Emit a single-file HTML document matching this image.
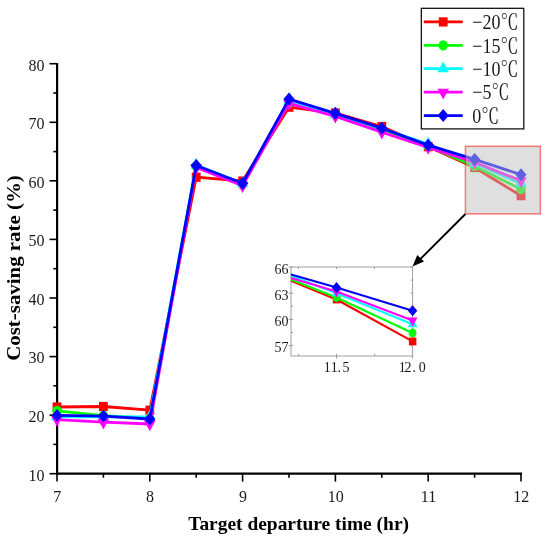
<!DOCTYPE html>
<html><head><meta charset="utf-8"><title>Cost-saving rate</title>
<style>
html,body{margin:0;padding:0;background:#fff;}
svg{display:block;}
text{font-family:"Liberation Serif","Noto Serif CJK SC",serif;fill:#1a1a1a;}
.tk{font-size:16px;}
.itk{font-size:14px;}
.lg{font-size:21px;}
.ttl{font-size:19.45px;font-weight:bold;fill:#000;}
</style></head><body>
<svg width="550" height="539" viewBox="0 0 550 539">
<rect width="550" height="539" fill="#fff"/>
<g stroke="#000" stroke-width="2" fill="none">
<path d="M57.1 62.9 V474.8" stroke-width="2.2"/>
<path d="M56 473.7 H522" stroke-width="2.2"/>
</g>
<g stroke="#000" stroke-width="1.6" fill="none">
<path d="M49.5 63.7 H57"/>
<path d="M53.3 93.0 H57"/>
<path d="M49.5 122.3 H57"/>
<path d="M53.3 151.6 H57"/>
<path d="M49.5 180.8 H57"/>
<path d="M53.3 210.1 H57"/>
<path d="M49.5 239.4 H57"/>
<path d="M53.3 268.7 H57"/>
<path d="M49.5 298.0 H57"/>
<path d="M53.3 327.3 H57"/>
<path d="M49.5 356.6 H57"/>
<path d="M53.3 385.8 H57"/>
<path d="M49.5 415.1 H57"/>
<path d="M53.3 444.4 H57"/>
<path d="M49.5 473.7 H57"/>
<path d="M57.0 473.7 V481.6"/>
<path d="M103.4 473.7 V477.7"/>
<path d="M149.8 473.7 V481.6"/>
<path d="M196.2 473.7 V477.7"/>
<path d="M242.6 473.7 V481.6"/>
<path d="M289.0 473.7 V477.7"/>
<path d="M335.4 473.7 V481.6"/>
<path d="M381.8 473.7 V477.7"/>
<path d="M428.2 473.7 V481.6"/>
<path d="M474.6 473.7 V477.7"/>
<path d="M521.0 473.7 V481.6"/>
</g>
<text class="tk" x="44.6" y="70.6" text-anchor="end">80</text>
<text class="tk" x="44.6" y="129.2" text-anchor="end">70</text>
<text class="tk" x="44.6" y="187.7" text-anchor="end">60</text>
<text class="tk" x="44.6" y="246.3" text-anchor="end">50</text>
<text class="tk" x="44.6" y="304.9" text-anchor="end">40</text>
<text class="tk" x="44.6" y="363.4" text-anchor="end">30</text>
<text class="tk" x="44.6" y="422.0" text-anchor="end">20</text>
<text class="tk" x="44.6" y="480.6" text-anchor="end">10</text>
<text class="tk" x="57.3" y="502.3" text-anchor="middle">7</text>
<text class="tk" x="150.1" y="502.3" text-anchor="middle">8</text>
<text class="tk" x="242.9" y="502.3" text-anchor="middle">9</text>
<text class="tk" x="335.7" y="502.3" text-anchor="middle">10</text>
<text class="tk" x="428.5" y="502.3" text-anchor="middle">11</text>
<text class="tk" x="521.3" y="502.3" text-anchor="middle">12</text>
<text class="ttl" x="298.6" y="529.6" text-anchor="middle">Target departure time (hr)</text>
<text class="ttl" transform="translate(20.2 268) rotate(-90)" text-anchor="middle" textLength="185.6" lengthAdjust="spacingAndGlyphs">Cost-saving rate (%)</text>
<polyline points="57.0,407.0 103.4,406.5 149.8,410.2 196.2,177.2 242.6,181.0 289.0,107.2 335.4,113.0 381.8,126.5 428.2,146.7 474.6,167.5 521.0,195.7" fill="none" stroke="#ff0000" stroke-width="2.8" stroke-linejoin="round"/>
<rect x="52.6" y="402.4" width="8.8" height="9.2" fill="#ff0000"/>
<rect x="99.0" y="401.9" width="8.8" height="9.2" fill="#ff0000"/>
<rect x="145.4" y="405.6" width="8.8" height="9.2" fill="#ff0000"/>
<rect x="191.8" y="172.6" width="8.8" height="9.2" fill="#ff0000"/>
<rect x="238.2" y="176.4" width="8.8" height="9.2" fill="#ff0000"/>
<rect x="284.6" y="102.6" width="8.8" height="9.2" fill="#ff0000"/>
<rect x="331.0" y="108.4" width="8.8" height="9.2" fill="#ff0000"/>
<rect x="377.4" y="121.9" width="8.8" height="9.2" fill="#ff0000"/>
<rect x="423.8" y="142.1" width="8.8" height="9.2" fill="#ff0000"/>
<rect x="470.2" y="162.9" width="8.8" height="9.2" fill="#ff0000"/>
<rect x="516.6" y="191.1" width="8.8" height="9.2" fill="#ff0000"/>
<polyline points="57.0,410.8 103.4,415.6 149.8,418.3 196.2,166.3 242.6,184.5 289.0,103.0 335.4,115.0 381.8,130.1 428.2,146.3 474.6,166.2 521.0,189.2" fill="none" stroke="#00ff00" stroke-width="2.8" stroke-linejoin="round"/>
<ellipse cx="57.0" cy="410.8" rx="4.65" ry="5.15" fill="#00ff00"/>
<ellipse cx="103.4" cy="415.6" rx="4.65" ry="5.15" fill="#00ff00"/>
<ellipse cx="149.8" cy="418.3" rx="4.65" ry="5.15" fill="#00ff00"/>
<ellipse cx="196.2" cy="166.3" rx="4.65" ry="5.15" fill="#00ff00"/>
<ellipse cx="242.6" cy="184.5" rx="4.65" ry="5.15" fill="#00ff00"/>
<ellipse cx="289.0" cy="103.0" rx="4.65" ry="5.15" fill="#00ff00"/>
<ellipse cx="335.4" cy="115.0" rx="4.65" ry="5.15" fill="#00ff00"/>
<ellipse cx="381.8" cy="130.1" rx="4.65" ry="5.15" fill="#00ff00"/>
<ellipse cx="428.2" cy="146.3" rx="4.65" ry="5.15" fill="#00ff00"/>
<ellipse cx="474.6" cy="166.2" rx="4.65" ry="5.15" fill="#00ff00"/>
<ellipse cx="521.0" cy="189.2" rx="4.65" ry="5.15" fill="#00ff00"/>
<polyline points="57.0,416.8 103.4,416.8 149.8,416.8 196.2,165.0 242.6,183.5 289.0,101.2 335.4,114.8 381.8,128.5 428.2,144.0 474.6,163.5 521.0,183.6" fill="none" stroke="#00ffff" stroke-width="2.8" stroke-linejoin="round"/>
<polygon points="57.0,409.6 62.8,420.3 51.2,420.3" fill="#00ffff"/>
<polygon points="103.4,409.6 109.2,420.3 97.6,420.3" fill="#00ffff"/>
<polygon points="149.8,409.6 155.6,420.3 144.0,420.3" fill="#00ffff"/>
<polygon points="196.2,157.8 202.0,168.5 190.4,168.5" fill="#00ffff"/>
<polygon points="242.6,176.3 248.4,187.0 236.8,187.0" fill="#00ffff"/>
<polygon points="289.0,94.0 294.8,104.7 283.2,104.7" fill="#00ffff"/>
<polygon points="335.4,107.6 341.2,118.3 329.6,118.3" fill="#00ffff"/>
<polygon points="381.8,121.3 387.6,132.0 376.0,132.0" fill="#00ffff"/>
<polygon points="428.2,136.8 434.0,147.5 422.4,147.5" fill="#00ffff"/>
<polygon points="474.6,156.3 480.4,167.0 468.8,167.0" fill="#00ffff"/>
<polygon points="521.0,176.4 526.8,187.1 515.2,187.1" fill="#00ffff"/>
<polyline points="57.0,419.6 103.4,422.2 149.8,424.0 196.2,167.5 242.6,185.7 289.0,103.3 335.4,116.4 381.8,132.2 428.2,147.5 474.6,162.3 521.0,180.8" fill="none" stroke="#ff00ff" stroke-width="2.8" stroke-linejoin="round"/>
<polygon points="57.0,426.8 62.8,416.1 51.2,416.1" fill="#ff00ff"/>
<polygon points="103.4,429.4 109.2,418.7 97.6,418.7" fill="#ff00ff"/>
<polygon points="149.8,431.2 155.6,420.5 144.0,420.5" fill="#ff00ff"/>
<polygon points="196.2,174.7 202.0,164.0 190.4,164.0" fill="#ff00ff"/>
<polygon points="242.6,192.9 248.4,182.2 236.8,182.2" fill="#ff00ff"/>
<polygon points="289.0,110.5 294.8,99.8 283.2,99.8" fill="#ff00ff"/>
<polygon points="335.4,123.6 341.2,112.9 329.6,112.9" fill="#ff00ff"/>
<polygon points="381.8,139.4 387.6,128.7 376.0,128.7" fill="#ff00ff"/>
<polygon points="428.2,154.7 434.0,144.0 422.4,144.0" fill="#ff00ff"/>
<polygon points="474.6,169.5 480.4,158.8 468.8,158.8" fill="#ff00ff"/>
<polygon points="521.0,188.0 526.8,177.3 515.2,177.3" fill="#ff00ff"/>
<polyline points="57.0,415.4 103.4,416.1 149.8,419.0 196.2,165.5 242.6,183.3 289.0,99.1 335.4,113.3 381.8,128.2 428.2,145.1 474.6,159.3 521.0,174.7" fill="none" stroke="#0000ff" stroke-width="2.8" stroke-linejoin="round"/>
<polygon points="57.0,408.9 62.5,415.4 57.0,421.8 51.5,415.4" fill="#0000ff"/>
<polygon points="103.4,409.7 109.0,416.1 103.4,422.6 97.9,416.1" fill="#0000ff"/>
<polygon points="149.8,412.6 155.4,419.0 149.8,425.4 144.2,419.0" fill="#0000ff"/>
<polygon points="196.2,159.1 201.8,165.5 196.2,171.9 190.6,165.5" fill="#0000ff"/>
<polygon points="242.6,176.9 248.2,183.3 242.6,189.8 237.0,183.3" fill="#0000ff"/>
<polygon points="289.0,92.6 294.6,99.1 289.0,105.5 283.4,99.1" fill="#0000ff"/>
<polygon points="335.4,106.8 340.9,113.3 335.4,119.8 329.8,113.3" fill="#0000ff"/>
<polygon points="381.8,121.7 387.4,128.2 381.8,134.6 376.2,128.2" fill="#0000ff"/>
<polygon points="428.2,138.7 433.8,145.1 428.2,151.5 422.6,145.1" fill="#0000ff"/>
<polygon points="474.6,152.9 480.2,159.3 474.6,165.8 469.1,159.3" fill="#0000ff"/>
<polygon points="521.0,168.2 526.5,174.7 521.0,181.1 515.5,174.7" fill="#0000ff"/>
<rect x="465.4" y="146.3" width="75" height="67.6" fill="#c0c0c0" fill-opacity="0.5" stroke="#ff0000" stroke-opacity="0.5" stroke-width="1.5"/>
<path d="M465.4 214 L420 259.4" stroke="#000" stroke-width="1.9" fill="none"/>
<polygon points="412.5,266.4 417.3,254.9 424,261.6" fill="#000"/>
<rect x="291" y="267" width="121.6" height="89" fill="#fff" stroke="#a0a0a0" stroke-width="1"/>
<g stroke="#999" stroke-width="1" fill="none">
<path d="M298.5 267 v2"/><path d="M298.5 356 v-2"/>
<path d="M336.5 267 v2"/><path d="M336.5 356 v-2"/>
<path d="M374.5 267 v2"/><path d="M374.5 356 v-2"/>
<path d="M336.5 356 v2.5"/><path d="M412.6 356 v2.5"/>
<path d="M291 267.0 h2"/><path d="M412.6 267.0 h-2"/>
<path d="M291 280.1 h2"/><path d="M412.6 280.1 h-2"/>
<path d="M291 293.2 h2"/><path d="M412.6 293.2 h-2"/>
<path d="M291 306.3 h2"/><path d="M412.6 306.3 h-2"/>
<path d="M291 319.4 h2"/><path d="M412.6 319.4 h-2"/>
<path d="M291 332.5 h2"/><path d="M412.6 332.5 h-2"/>
<path d="M291 345.6 h2"/><path d="M412.6 345.6 h-2"/>
<path d="M288.8 267.0 h2.2"/>
<path d="M288.8 293.2 h2.2"/>
<path d="M288.8 319.4 h2.2"/>
<path d="M288.8 345.6 h2.2"/>
</g>
<text class="itk" x="288.6" y="273.5" text-anchor="end">66</text>
<text class="itk" x="288.6" y="299.7" text-anchor="end">63</text>
<text class="itk" x="288.6" y="325.9" text-anchor="end">60</text>
<text class="itk" x="288.6" y="352.1" text-anchor="end">57</text>
<text class="itk" x="323.8 330.7 337.5 342.6" y="371.5">11.5</text>
<text class="itk" x="398.7 404.5 412.5 418.8" y="371.5">12.0</text>
<polyline points="291.0,280.9 336.5,299.5 412.6,341.4" fill="none" stroke="#ff0000" stroke-width="2.1" stroke-linejoin="round"/>
<rect x="332.8" y="295.6" width="7.5" height="7.8" fill="#ff0000"/>
<rect x="408.9" y="337.5" width="7.5" height="7.8" fill="#ff0000"/>
<polyline points="291.0,279.4 336.5,297.5 412.6,333.0" fill="none" stroke="#00ff00" stroke-width="2.1" stroke-linejoin="round"/>
<ellipse cx="336.5" cy="297.5" rx="3.95" ry="4.38" fill="#00ff00"/>
<ellipse cx="412.6" cy="333.0" rx="3.95" ry="4.38" fill="#00ff00"/>
<polyline points="291.0,275.8 336.5,293.2 412.6,324.2" fill="none" stroke="#00ffff" stroke-width="2.1" stroke-linejoin="round"/>
<polygon points="336.5,287.1 341.4,296.2 331.6,296.2" fill="#00ffff"/>
<polygon points="412.6,318.1 417.5,327.2 407.7,327.2" fill="#00ffff"/>
<polyline points="291.0,277.9 336.5,291.4 412.6,320.5" fill="none" stroke="#ff00ff" stroke-width="2.1" stroke-linejoin="round"/>
<polygon points="336.5,297.5 341.4,288.4 331.6,288.4" fill="#ff00ff"/>
<polygon points="412.6,326.6 417.5,317.5 407.7,317.5" fill="#ff00ff"/>
<polyline points="291.0,274.4 336.5,287.6 412.6,310.7" fill="none" stroke="#0000ff" stroke-width="2.1" stroke-linejoin="round"/>
<polygon points="336.5,282.1 341.2,287.6 336.5,293.1 331.8,287.6" fill="#0000ff"/>
<polygon points="412.6,305.2 417.3,310.7 412.6,316.2 407.9,310.7" fill="#0000ff"/>
<rect x="421.3" y="8.3" width="102.5" height="120.6" fill="#fff" stroke="#000" stroke-width="1.2"/>
<path d="M423.8 21.9 H462.7" stroke="#ff0000" stroke-width="2.8"/>
<rect x="438.8" y="17.3" width="8.8" height="9.2" fill="#ff0000"/>
<text class="lg" transform="translate(472.3 29.1) scale(0.86 1)">−20℃</text>
<path d="M423.8 45.3 H462.7" stroke="#00ff00" stroke-width="2.8"/>
<ellipse cx="443.2" cy="45.3" rx="4.65" ry="5.15" fill="#00ff00"/>
<text class="lg" transform="translate(472.3 52.5) scale(0.86 1)">−15℃</text>
<path d="M423.8 68.7 H462.7" stroke="#00ffff" stroke-width="2.8"/>
<polygon points="443.2,61.5 449.0,72.2 437.4,72.2" fill="#00ffff"/>
<text class="lg" transform="translate(472.3 75.9) scale(0.86 1)">−10℃</text>
<path d="M423.8 92.2 H462.7" stroke="#ff00ff" stroke-width="2.8"/>
<polygon points="443.2,99.4 449.0,88.7 437.4,88.7" fill="#ff00ff"/>
<text class="lg" transform="translate(472.3 99.4) scale(0.86 1)">−5℃</text>
<path d="M423.8 115.6 H462.7" stroke="#0000ff" stroke-width="2.8"/>
<polygon points="443.2,109.1 448.8,115.6 443.2,122.0 437.6,115.6" fill="#0000ff"/>
<text class="lg" transform="translate(472.3 122.8) scale(0.86 1)">0℃</text>
</svg></body></html>
